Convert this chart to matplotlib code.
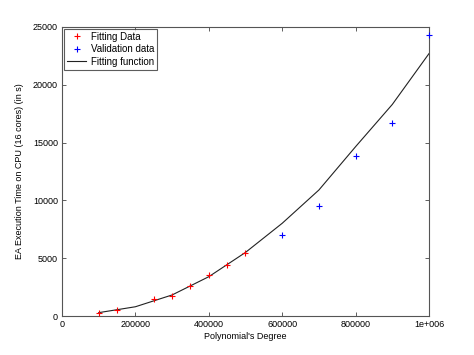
import matplotlib
matplotlib.use("Agg")
import matplotlib.pyplot as plt

plt.rcParams['font.family'] = ['Liberation Sans', 'DejaVu Sans']

fit_x = [100000, 150000, 250000, 300000, 350000, 400000, 450000, 500000]
fit_y = [230, 490, 1470, 1700, 2600, 3520, 4410, 5420]
val_x = [600000, 700000, 800000, 900000, 1000000]
val_y = [6980, 9490, 13840, 16670, 24330]
func_x = [100000, 200000, 300000, 400000, 500000, 600000, 700000, 800000, 900000, 1000000]
func_y = [290, 800, 1820, 3400, 5500, 8020, 10900, 14650, 18300, 22700]
xticks = [0, 200000, 400000, 600000, 800000, 1000000]
xtick_labels = ['0', '200000', '400000', '600000', '800000', '1e+006']
yticks = [0, 5000, 10000, 15000, 20000, 25000]

fig = plt.figure(figsize=(4.74, 3.55), dpi=100)
ax = fig.add_axes([62/474, 1-316/355, (429-62)/474, (316-27)/355])

ax.plot(fit_x, fit_y, '+', color='#ff0000', ms=5, mew=0.8, label='Fitting Data', clip_on=False, zorder=4)
ax.plot(val_x, val_y, '+', color='#0000ff', ms=5, mew=0.8, label='Validation data', clip_on=False, zorder=4)
ax.plot(func_x, func_y, '-', color='#222222', lw=0.8, label='Fitting function')

ax.set_xlim(0, 1000000)
ax.set_ylim(0, 25000)
ax.set_xticks(xticks)
ax.set_xticklabels(xtick_labels)
ax.set_yticks(yticks)
ax.tick_params(direction='in', top=True, right=True, labelsize=6.5, length=3, width=0.6, color='#444444', pad=3)
for s in ax.spines.values():
    s.set_color('#555555')
    s.set_linewidth(0.8)
ax.set_xlabel("Polynomial's Degree", fontsize=6.5, labelpad=2)
ax.set_ylabel("EA Execution Time on CPU (16 cores) (in s)", fontsize=6.5, labelpad=6)

leg = ax.legend(loc='upper left', fontsize=7, frameon=True, fancybox=False,
                borderpad=0.3, handlelength=2.0, handletextpad=0.5, labelspacing=0.25, borderaxespad=0.2)
leg.get_frame().set_edgecolor('#333333')
leg.get_frame().set_linewidth(0.8)

fig.savefig('out.png', dpi=100)
